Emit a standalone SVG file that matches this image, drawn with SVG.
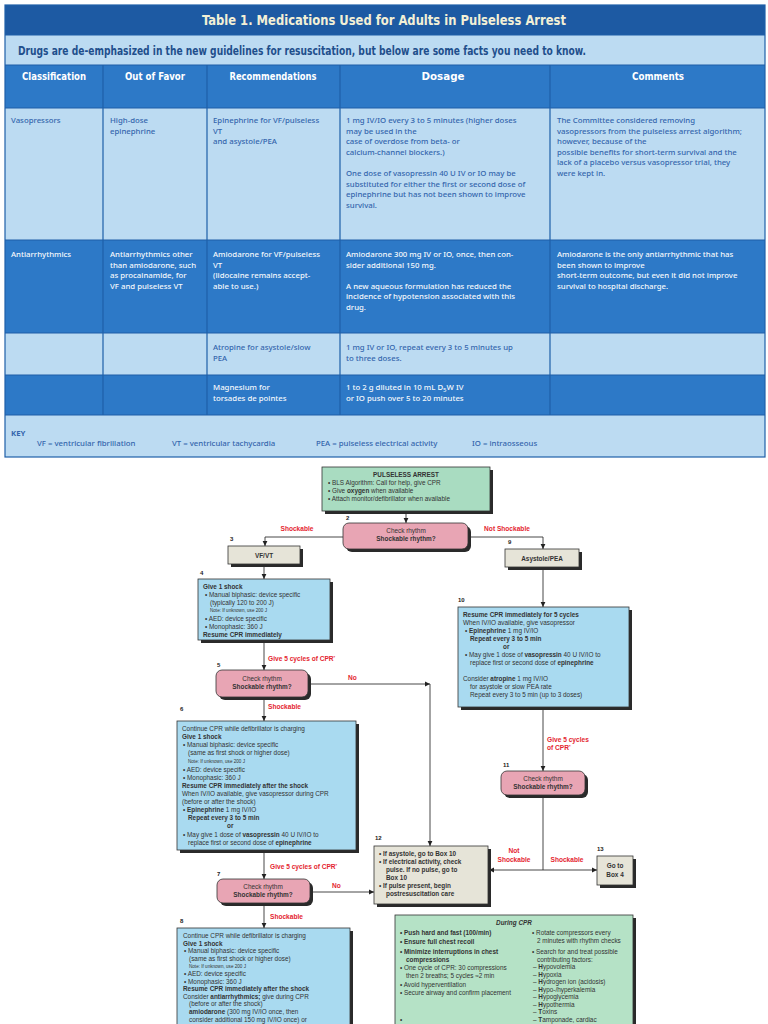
<svg xmlns="http://www.w3.org/2000/svg" width="768" height="1024" viewBox="0 0 768 1024">
<defs>
<marker id="ah" markerWidth="6" markerHeight="6" refX="5" refY="3" orient="auto" markerUnits="userSpaceOnUse"><path d="M0,0.6 L5,3 L0,5.4 z" fill="#222"/></marker>
<style>
.tt{font-family:"DejaVu Sans Condensed","DejaVu Sans",sans-serif;font-stretch:condensed;font-weight:bold}
.c{font-family:"Noto Sans","Open Sans",sans-serif;font-size:7.8px;font-weight:500}
.cl{fill:#3466ad}
.cd{fill:#f4f8fc}
.f{font-family:"Liberation Sans",Arial,sans-serif;font-size:6.4px;fill:#333}
.b{font-weight:bold}
.sm{font-size:4.6px}
.r{font-family:"Liberation Sans",Arial,sans-serif;font-size:6.6px;font-weight:bold;fill:#e42530}
.n{font-family:"Liberation Sans",Arial,sans-serif;font-size:6px;font-weight:bold;fill:#222}
.sh{fill:#2a2a2a}
.bx{stroke:#333;stroke-width:0.8}
.ln{fill:none;stroke:#333;stroke-width:0.9}
.g{stroke:#1f5fa8;stroke-width:1.2;fill:none}
.light{fill:#bcdbf2}
.dark{fill:#2d79c7}
</style>
</defs>
<rect width="768" height="1024" fill="#ffffff"/>

<g id="table">
<rect x="5" y="5" width="760" height="30" fill="#1d5aa3"/>
<rect x="5" y="35" width="760" height="30" class="light"/>
<rect x="5" y="65" width="760" height="43" class="dark"/>
<rect x="5" y="108" width="760" height="132" class="light"/>
<rect x="5" y="240" width="760" height="93" class="dark"/>
<rect x="5" y="333" width="760" height="42" class="light"/>
<rect x="5" y="375" width="760" height="40" class="dark"/>
<rect x="5" y="415" width="760" height="42" class="light"/>
<rect x="5" y="5" width="760" height="452" class="g"/>
<path class="g" d="M5,35 H765 M5,65 H765 M5,108 H765 M5,240 H765 M5,333 H765 M5,375 H765 M5,415 H765 M103,65 V415 M207,65 V415 M340,65 V415 M550,65 V415"/>
<text class="tt" x="384" y="25" font-size="14.5" fill="#f3f0d6" text-anchor="middle" textLength="364" lengthAdjust="spacingAndGlyphs">Table 1. Medications Used for Adults in Pulseless Arrest</text>
<text class="tt" x="18" y="55" font-size="11.5" fill="#1f4f8c" textLength="568" lengthAdjust="spacingAndGlyphs">Drugs are de-emphasized in the new guidelines for resuscitation, but below are some facts you need to know.</text>
<g class="tt" font-size="10" fill="#ffffff" text-anchor="middle">
<text x="54" y="80" textLength="64" lengthAdjust="spacingAndGlyphs">Classification</text>
<text x="155" y="80" textLength="60" lengthAdjust="spacingAndGlyphs">Out of Favor</text>
<text x="273" y="80" textLength="87" lengthAdjust="spacingAndGlyphs">Recommendations</text>
<text x="443" y="80" textLength="43" lengthAdjust="spacingAndGlyphs">Dosage</text>
<text x="658" y="80" textLength="52" lengthAdjust="spacingAndGlyphs">Comments</text>
</g>
<g class="c cl">
<text x="11" y="123">Vasopressors</text>
<text x="110" y="123">High-dose</text>
<text x="110" y="133.6">epinephrine</text>
<text x="213" y="123">Epinephrine  for VF/pulseless</text>
<text x="213" y="133.6">VT</text>
<text x="213" y="144.2">and asystole/PEA</text>
<text x="346" y="123">1 mg IV/IO every 3 to 5 minutes (higher doses</text>
<text x="346" y="133.6">may be used in the</text>
<text x="346" y="144.2">case of overdose from beta- or</text>
<text x="346" y="154.8">calcium-channel blockers.)</text>
<text x="346" y="176">One dose of vasopressin 40 U IV or IO may be</text>
<text x="346" y="186.6">substituted for either the first or second dose of</text>
<text x="346" y="197.2">epinephrine but has not been shown to improve</text>
<text x="346" y="207.8">survival.</text>
<text x="557" y="123">The Committee considered removing</text>
<text x="557" y="133.6">vasopressors from the pulseless arrest algorithm;</text>
<text x="557" y="144.2">however, because of the</text>
<text x="557" y="154.8">possible benefits for short-term survival  and the</text>
<text x="557" y="165.4">lack of a placebo versus vasopressor trial, they</text>
<text x="557" y="176">were kept in.</text>
<text x="213" y="350">Atropine for asystole/slow</text>
<text x="213" y="360.6">PEA</text>
<text x="346" y="350">1 mg IV or IO, repeat every 3 to 5 minutes up</text>
<text x="346" y="360.6">to three doses.</text>
</g>
<g class="c cd">
<text x="11" y="257">Antiarrhythmics</text>
<text x="110" y="257">Antiarrhythmics other</text>
<text x="110" y="267.6">than amiodarone, such</text>
<text x="110" y="278.2">as procainamide, for</text>
<text x="110" y="288.8">VF and pulseless VT</text>
<text x="213" y="257">Amiodarone for VF/pulseless</text>
<text x="213" y="267.6">VT</text>
<text x="213" y="278.2">(lidocaine remains accept-</text>
<text x="213" y="288.8">able to use.)</text>
<text x="346" y="257">Amiodarone 300 mg IV or IO, once, then con-</text>
<text x="346" y="267.6">sider additional 150 mg.</text>
<text x="346" y="288.8">A new aqueous formulation has reduced the</text>
<text x="346" y="299.4">incidence of hypotension associated with this</text>
<text x="346" y="310">drug.</text>
<text x="557" y="257">Amiodarone is the only antiarrhythmic that has</text>
<text x="557" y="267.6">been shown to improve</text>
<text x="557" y="278.2">short-term outcome, but even it did not improve</text>
<text x="557" y="288.8">survival to hospital discharge.</text>
<text x="213" y="390">Magnesium for</text>
<text x="213" y="400.6">torsades de pointes</text>
<text x="346" y="390">1 to 2 g diluted in 10 mL D<tspan font-size="6" baseline-shift="-1.5">5</tspan>W IV</text>
<text x="346" y="400.6">or IO push over 5 to 20 minutes</text>
</g>
<g class="c cl" font-size="6.8">
<text x="11" y="436" class="b">KEY</text>
<text x="37" y="446">VF = ventricular fibrillation</text>
<text x="172" y="446">VT =  ventricular tachycardia</text>
<text x="316" y="446">PEA = pulseless electrical activity</text>
<text x="472" y="446">IO = intraosseous</text>
</g>
</g>

<g id="connectors" class="ln">
<path d="M406,511 V523" marker-end="url(#ah)"/>
<path d="M343,537 H265 V546" marker-end="url(#ah)"/>
<path d="M468,537 H543 V549" marker-end="url(#ah)"/>
<path d="M264,564 V579" marker-end="url(#ah)"/>
<path d="M543,567 V607" marker-end="url(#ah)"/>
<path d="M264,640 V670" marker-end="url(#ah)"/>
<path d="M308,684 H430" marker-end="url(#ah)"/>
<path d="M430,684 V846" marker-end="url(#ah)"/>
<path d="M264,697 V721" marker-end="url(#ah)"/>
<path d="M264,850 V879" marker-end="url(#ah)"/>
<path d="M310,892 H374" marker-end="url(#ah)"/>
<path d="M264,903 V928" marker-end="url(#ah)"/>
<path d="M543,707 V771" marker-end="url(#ah)"/>
<path d="M543,795 V870"/>
<path d="M543,870 H489" marker-end="url(#ah)"/>
<path d="M543,870 H597" marker-end="url(#ah)"/>
</g>

<g id="labels">
<text class="r" x="297" y="531" text-anchor="middle">Shockable</text>
<text class="r" x="507" y="531" text-anchor="middle">Not Shockable</text>
<text class="r" x="268" y="661">Give 5 cycles of CPR<tspan font-size="4" baseline-shift="super">*</tspan></text>
<text class="r" x="348" y="680">No</text>
<text class="r" x="268" y="709">Shockable</text>
<text class="r" x="270" y="869">Give 5 cycles of CPR<tspan font-size="4" baseline-shift="super">*</tspan></text>
<text class="r" x="332" y="888">No</text>
<text class="r" x="270" y="919">Shockable</text>
<text class="r" x="547" y="742">Give 5 cycles</text>
<text class="r" x="547" y="750">of CPR<tspan font-size="4" baseline-shift="super">*</tspan></text>
<text class="r" x="514" y="853" text-anchor="middle">Not</text>
<text class="r" x="514" y="862" text-anchor="middle">Shockable</text>
<text class="r" x="567" y="862" text-anchor="middle">Shockable</text>
</g>

<g id="n1">
<rect class="sh" x="325" y="470" width="168" height="44"/>
<rect class="bx" x="322" y="467" width="168" height="44" fill="#a9dcc1"/>
<text class="f b" x="406" y="477" text-anchor="middle">PULSELESS ARREST</text>
<text class="f" x="328" y="485">•  BLS Algorithm: Call for help, give CPR</text>
<text class="f" x="328" y="493">•  Give <tspan class="b">oxygen</tspan> when available</text>
<text class="f" x="328" y="501">•  Attach monitor/defibrillator when available</text>
</g>

<g id="n2">
<text class="n" x="346" y="520">2</text>
<rect class="sh" x="346" y="526" width="125" height="26" rx="6"/>
<rect class="bx" x="343" y="523" width="125" height="26" rx="6" fill="#e8a5b4"/>
<text class="f" x="406" y="533" text-anchor="middle">Check rhythm</text>
<text class="f b" x="406" y="541" text-anchor="middle">Shockable rhythm?</text>
</g>

<g id="n3">
<text class="n" x="230" y="541">3</text>
<rect class="sh" x="231" y="549" width="72" height="18"/>
<rect class="bx" x="228" y="546" width="72" height="18" fill="#e6e4d8"/>
<text class="f b" x="264" y="557.5" text-anchor="middle">VF/VT</text>
</g>

<g id="n9">
<text class="n" x="508" y="544">9</text>
<rect class="sh" x="508" y="552" width="74" height="18"/>
<rect class="bx" x="505" y="549" width="74" height="18" fill="#e6e4d8"/>
<text class="f b" x="542" y="560.5" text-anchor="middle">Asystole/PEA</text>
</g>

<g id="n4">
<text class="n" x="200" y="575">4</text>
<rect class="sh" x="201" y="582" width="132" height="61"/>
<rect class="bx" x="198" y="579" width="132" height="61" fill="#a9daf0"/>
<text class="f b" x="203" y="589">Give 1 shock</text>
<text class="f" x="205" y="597">•  Manual biphasic: device specific</text>
<text class="f" x="210" y="605">(typically 120 to 200 J)</text>
<text class="f sm" x="210" y="612">Note: If unknown, use 200 J</text>
<text class="f" x="205" y="621">•  AED: device specific</text>
<text class="f" x="205" y="629">•  Monophasic: 360 J</text>
<text class="f b" x="203" y="637">Resume CPR immediately</text>
</g>

<g id="n10">
<text class="n" x="458" y="602">10</text>
<rect class="sh" x="461" y="610" width="171" height="100"/>
<rect class="bx" x="458" y="607" width="171" height="100" fill="#a9daf0"/>
<text class="f b" x="463" y="617">Resume CPR immediately for 5 cycles</text>
<text class="f" x="463" y="625">When IV/IO available, give vasopressor</text>
<text class="f" x="465" y="633">•  <tspan class="b">Epinephrine</tspan> 1 mg IV/IO</text>
<text class="f b" x="470" y="641">Repeat every 3 to 5 min</text>
<text class="f b" x="503" y="649">or</text>
<text class="f" x="465" y="657">•  May give 1 dose of <tspan class="b">vasopressin</tspan> 40 U IV/IO to</text>
<text class="f" x="470" y="665">replace first or second dose of <tspan class="b">epinephrine</tspan></text>
<text class="f" x="463" y="681">Consider <tspan class="b">atropine</tspan> 1 mg IV/IO</text>
<text class="f" x="470" y="689">for asystole or slow PEA rate</text>
<text class="f" x="470" y="697">Repeat every 3 to 5 min (up to 3 doses)</text>
</g>

<g id="n5">
<text class="n" x="217" y="667">5</text>
<rect class="sh" x="219" y="673" width="92" height="27" rx="6"/>
<rect class="bx" x="216" y="670" width="92" height="27" rx="6" fill="#e8a5b4"/>
<text class="f" x="262" y="680.5" text-anchor="middle">Check rhythm</text>
<text class="f b" x="262" y="688.5" text-anchor="middle">Shockable rhythm?</text>
</g>

<g id="n6">
<text class="n" x="180" y="711">6</text>
<rect class="sh" x="180" y="724" width="179" height="129"/>
<rect class="bx" x="177" y="721" width="179" height="129" fill="#a9daf0"/>
<text class="f" x="182" y="731">Continue CPR while defibrillator is charging</text>
<text class="f b" x="182" y="739.1">Give 1 shock</text>
<text class="f" x="183" y="747.2">•  Manual biphasic: device specific</text>
<text class="f" x="188" y="755.3">(same as first shock or higher dose)</text>
<text class="f sm" x="188" y="763.2">Note: If unknown, use 200 J</text>
<text class="f" x="183" y="771.5">•  AED: device specific</text>
<text class="f" x="183" y="779.6">•  Monophasic: 360 J</text>
<text class="f b" x="182" y="787.7">Resume CPR immediately after the shock</text>
<text class="f" x="182" y="795.8">When IV/IO available, give vasopressor during CPR</text>
<text class="f" x="182" y="803.9">(before or after the shock)</text>
<text class="f" x="183" y="812">•  <tspan class="b">Epinephrine</tspan> 1 mg IV/IO</text>
<text class="f b" x="188" y="820.1">Repeat every 3 to 5 min</text>
<text class="f b" x="227" y="828.2">or</text>
<text class="f" x="183" y="837">•  May give 1 dose of <tspan class="b">vasopressin</tspan> 40 U IV/IO to</text>
<text class="f" x="188" y="845">replace first or second dose of <tspan class="b">epinephrine</tspan></text>
</g>

<g id="n7">
<text class="n" x="217" y="876">7</text>
<rect class="sh" x="220" y="882" width="93" height="24" rx="6"/>
<rect class="bx" x="217" y="879" width="93" height="24" rx="6" fill="#e8a5b4"/>
<text class="f" x="263" y="889" text-anchor="middle">Check rhythm</text>
<text class="f b" x="263" y="897" text-anchor="middle">Shockable rhythm?</text>
</g>

<g id="n8">
<text class="n" x="180" y="923">8</text>
<rect class="sh" x="180" y="931" width="173" height="110"/>
<rect class="bx" x="177" y="928" width="173" height="110" fill="#a9daf0"/>
<text class="f" x="183" y="938">Continue CPR while defibrillator is charging</text>
<text class="f b" x="183" y="945.6">Give 1 shock</text>
<text class="f" x="184" y="953.2">•  Manual biphasic: device specific</text>
<text class="f" x="189" y="960.8">(same as first shock or higher dose)</text>
<text class="f sm" x="189" y="968">Note: If unknown, use 200 J</text>
<text class="f" x="184" y="976">•  AED: device specific</text>
<text class="f" x="184" y="983.6">•  Monophasic: 360 J</text>
<text class="f b" x="183" y="991.2">Resume CPR immediately after the shock</text>
<text class="f" x="183" y="998.8">Consider <tspan class="b">antiarrhythmics;</tspan> give during CPR</text>
<text class="f" x="189" y="1006.4">(before or after the shock)</text>
<text class="f" x="189" y="1014"><tspan class="b">amiodarone</tspan> (300 mg IV/IO once, then</text>
<text class="f" x="189" y="1021.6">consider additional 150 mg IV/IO once) or</text>
</g>

<g id="n11">
<text class="n" x="503" y="767">11</text>
<rect class="sh" x="504" y="774" width="84" height="24" rx="6"/>
<rect class="bx" x="501" y="771" width="84" height="24" rx="6" fill="#e8a5b4"/>
<text class="f" x="543" y="781" text-anchor="middle">Check rhythm</text>
<text class="f b" x="543" y="789" text-anchor="middle">Shockable rhythm?</text>
</g>

<g id="n12">
<text class="n" x="375" y="840">12</text>
<rect class="sh" x="377" y="849" width="114" height="58"/>
<rect class="bx" x="374" y="846" width="114" height="58" fill="#e6e4d8"/>
<text class="f b" x="379" y="856">•  If asystole, go to Box 10</text>
<text class="f b" x="379" y="864">•  If electrical activity, check</text>
<text class="f b" x="386" y="872">pulse. If no pulse, go to</text>
<text class="f b" x="386" y="880">Box 10</text>
<text class="f b" x="379" y="888">•  If pulse present, begin</text>
<text class="f b" x="386" y="896">postresuscitation care</text>
</g>

<g id="n13">
<text class="n" x="597" y="851">13</text>
<rect class="sh" x="600" y="859" width="36" height="29"/>
<rect class="bx" x="597" y="856" width="36" height="29" fill="#e6e4d8"/>
<text class="f b" x="615" y="868" text-anchor="middle">Go to</text>
<text class="f b" x="615" y="877" text-anchor="middle">Box 4</text>
</g>

<g id="during-cpr">
<rect class="sh" x="398" y="918" width="238" height="120"/>
<rect class="bx" x="395" y="915" width="238" height="120" fill="#b5e2c6"/>
<text class="f b" x="514" y="925" text-anchor="middle" font-style="italic">During CPR</text>
<text class="f b" x="400" y="935">•  Push hard and fast (100/min)</text>
<text class="f b" x="400" y="944">•  Ensure full chest recoil</text>
<text class="f b" x="400" y="954">•  Minimize interruptions in chest</text>
<text class="f b" x="406" y="961.5">compressions</text>
<text class="f" x="400" y="970">•  One cycle of CPR: 30 compressions</text>
<text class="f" x="406" y="977.5">then 2 breaths; 5 cycles ≈2 min</text>
<text class="f" x="400" y="987">•  Avoid hyperventilation</text>
<text class="f" x="400" y="995">•  Secure airway and confirm placement</text>
<text class="f" x="400" y="1022">•</text>
<text class="f" x="532" y="935">•  Rotate compressors every</text>
<text class="f" x="537" y="943">2 minutes with rhythm checks</text>
<text class="f" x="532" y="954">•  Search for and treat possible</text>
<text class="f" x="537" y="961.5">contributing factors:</text>
<text class="f" x="533" y="969">– <tspan class="b">H</tspan>ypovolemia</text>
<text class="f" x="533" y="976.5">– <tspan class="b">H</tspan>ypoxia</text>
<text class="f" x="533" y="984">– <tspan class="b">H</tspan>ydrogen ion (acidosis)</text>
<text class="f" x="533" y="991.5">– <tspan class="b">H</tspan>ypo-/hyperkalemia</text>
<text class="f" x="533" y="999">– <tspan class="b">H</tspan>ypoglycemia</text>
<text class="f" x="533" y="1006.5">– <tspan class="b">H</tspan>ypothermia</text>
<text class="f" x="533" y="1014">– <tspan class="b">T</tspan>oxins</text>
<text class="f" x="533" y="1021.5">– <tspan class="b">T</tspan>amponade, cardiac</text>
</g>
</svg>
